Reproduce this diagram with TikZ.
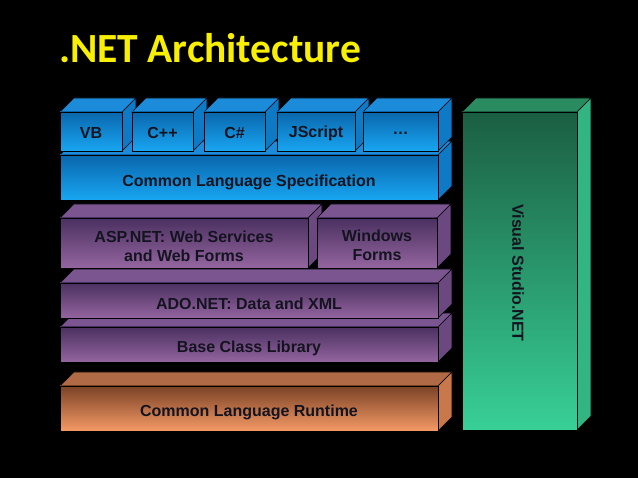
\documentclass[tikz,border=0pt]{standalone}
\usepackage{fontspec}
\setmainfont{Liberation Sans}
\newfontfamily\titlefont{Carlito}
\usetikzlibrary{calc}
\definecolor{bluetop}{HTML}{0A66AC}
\definecolor{bluebot}{HTML}{18A6F2}
\definecolor{blueface}{HTML}{1C8CDA}
\definecolor{blueside}{HTML}{0E7AC6}
\definecolor{purtop}{HTML}{4A3060}
\definecolor{purbot}{HTML}{94659F}
\definecolor{purface}{HTML}{7A5590}
\definecolor{purside}{HTML}{6C4880}
\definecolor{ortop}{HTML}{7A4226}
\definecolor{orbot}{HTML}{F59A66}
\definecolor{orface}{HTML}{B06A45}
\definecolor{orside}{HTML}{C8784A}
\definecolor{grtop}{HTML}{1B5E42}
\definecolor{grbot}{HTML}{38D096}
\definecolor{grface}{HTML}{2A8A60}
\definecolor{grside}{HTML}{33B483}
\definecolor{txt}{HTML}{141420}
\definecolor{titleyellow}{HTML}{F8F000}
\tikzset{
  front/.style={rectangle, inner sep=0pt, draw=black, line width=0.6pt, text=txt,
    font=\bfseries\fontsize{16}{19}\selectfont, align=center},
  bluebox/.style={front, top color=bluetop, bottom color=bluebot},
  purbox/.style={front, top color=purtop, bottom color=purbot},
  orbox/.style={front, top color=ortop, bottom color=orbot},
  grbox/.style={front, top color=grtop, bottom color=grbot},
  face/.style={draw=black, line width=0.6pt},
  lbl/.style={text=txt, font=\bfseries\fontsize{16}{19}\selectfont, align=center, inner sep=0pt}
}
% \blockat{name}{x0}{y0}{x1}{y1}{style}{topface}{sideface}{depth}
\newcommand{\blockat}[9]{%
  \fill[face, fill=#7] (#2,#3) -- ++(#9,-#9) -- (#4+#9,#3-#9) -- (#4,#3) -- cycle;
  \fill[face, fill=#8] (#4,#3) -- ++(#9,-#9) -- (#4+#9,#5-#9) -- (#4,#5) -- cycle;
  \node[#6, minimum width={(#4-#2)*1pt}, minimum height={(#5-#3)*1pt}] (#1) at ({(#2+#4)/2},{(#3+#5)/2}) {};}
\begin{document}
\begin{tikzpicture}[x=1pt,y=-1pt]
\fill[black] (0,0) rectangle (638,478);
\useasboundingbox (0,0) rectangle (638,478);
\node[anchor=base west, inner sep=0pt, text=titleyellow, font=\titlefont\bfseries\fontsize{41.5}{42}\selectfont] (title) at (59,63) {.NET Architecture};
% CLR
\blockat{clr}{60}{386}{438}{431}{orbox}{orface}{orside}{14}
\node[lbl] (clrt) at ([yshift=-3.5pt]clr.center) {Common Language Runtime};
% BCL
\blockat{bcl}{60}{327}{438}{362}{purbox}{purface}{purside}{14}
\node[lbl] (bclt) at ([yshift=-3.5pt]bcl.center) {Base Class Library};
% ADO
\blockat{ado}{60}{283}{438}{318}{purbox}{purface}{purside}{14}
\node[lbl] (adot) at ([yshift=-3pt]ado.center) {ADO.NET: Data and XML};
% ASP / Windows
\blockat{asp}{60}{218}{308}{268}{purbox}{purface}{purside}{14}
\node[lbl] (aspt) at ([yshift=-3pt]asp.center) {ASP.NET: Web Services\\and Web Forms};
\blockat{win}{317}{218}{437}{268}{purbox}{purface}{purside}{14}
\node[lbl] (wint) at ([yshift=-2pt]win.center) {Windows\\Forms};
% CLS
\blockat{cls}{60}{155}{438}{200}{bluebox}{blueface}{blueside}{14}
\node[lbl] (clst) at ([yshift=-5pt]cls.center) {Common Language Specification};
% languages
\blockat{vb}{60}{112}{122}{151}{bluebox}{blueface}{blueside}{14}
\node[lbl] (vbt) at ([yshift=-1.5pt]vb.center) {VB};
\blockat{cpp}{132}{112}{193}{151}{bluebox}{blueface}{blueside}{14}
\node[lbl] (cppt) at ([yshift=-1.5pt]cpp.center) {C++};
\blockat{cs}{204}{112}{265}{151}{bluebox}{blueface}{blueside}{14}
\node[lbl] (cst) at ([yshift=-1.5pt]cs.center) {C\#};
\blockat{js}{277}{112}{355}{151}{bluebox}{blueface}{blueside}{14}
\node[lbl] (jst) at ([yshift=-1.5pt]js.center) {JScript};
\blockat{more}{363}{112}{438}{151}{bluebox}{blueface}{blueside}{14}
\node[lbl] (moret) at ([yshift=-1.5pt]more.center) {\dots};
% Visual Studio
\blockat{vs}{462}{112}{577}{430}{grbox}{grface}{grside}{14}
\node[lbl, rotate=-90] (vst) at (518,273) {Visual Studio.NET};
\end{tikzpicture}
\end{document}
